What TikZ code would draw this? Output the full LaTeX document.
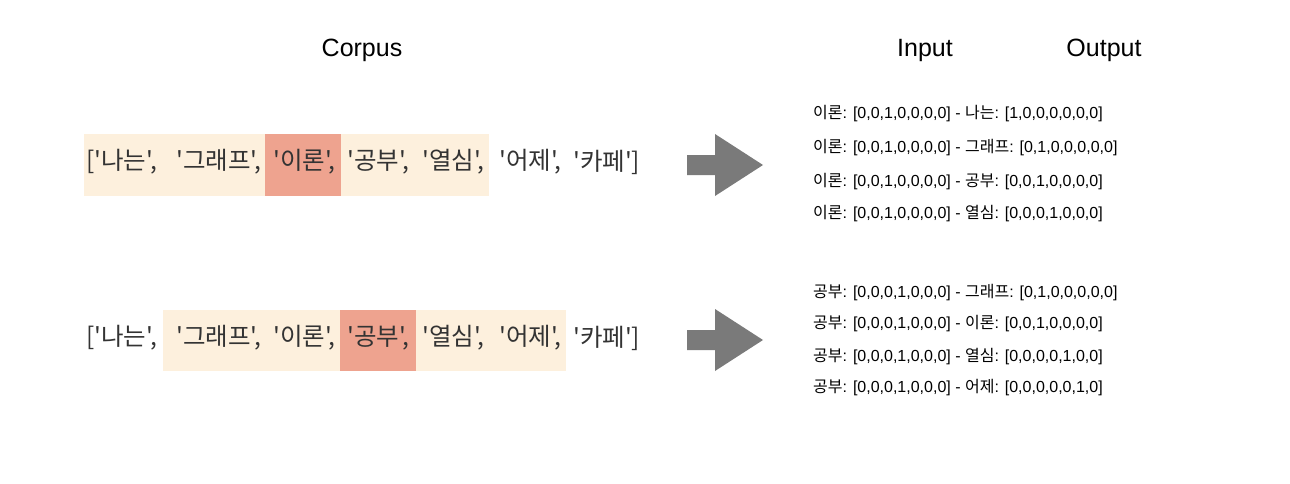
\documentclass[tikz,border=0pt]{standalone}
\usepackage{fontspec}
\setmainfont{Liberation Sans}
\newfontfamily\cjk{Noto Sans CJK KR}
\definecolor{litec}{HTML}{FDF0DD}
\definecolor{hotc}{HTML}{EEA38F}
\begin{document}
\begin{tikzpicture}[x=1pt,y=-1pt,
  lite/.style={fill=litec,draw=none},
  hot/.style={fill=hotc,draw=none},
  corp/.style={inner sep=0pt,anchor=west,font=\cjk\fontsize{24.5}{28}\selectfont,text=black!80},
  io/.style={inner sep=0pt,anchor=west,font=\fontsize{16}{19}\selectfont},
  ttl/.style={inner sep=0pt,font=\fontsize{25}{30}\selectfont},
  barrow/.style={fill=black!52,draw=none}]
\useasboundingbox (0,0) rectangle (1290,484);
\fill[lite] (84,134) rectangle (489,196);
\fill[hot] (265,134) rectangle (341,196);
\fill[lite] (163,310) rectangle (566,371);
\fill[hot] (340,310) rectangle (416,371);
\foreach \r/\y in {a/162,b/338}{
\node[corp] (\r1) at (86,\y) {['나는',};
\node[corp] (\r2) at (176,\y) {'그래프',};
\node[corp] (\r3) at (273,\y) {'이론',};
\node[corp] (\r4) at (347,\y) {'공부',};
\node[corp] (\r5) at (422,\y) {'열심',};
\node[corp] (\r6) at (499,\y) {'어제',};
\node[corp] (\r7) at (573,\y) {'카페']};
}
\node[ttl] (t1) at (362,50) {Corpus};
\node[ttl] (t2) at (925,50) {Input};
\node[ttl] (t3) at (1104,50) {Output};
\fill[barrow] (687,155) -- (715,155) -- (715,134) -- (763,165) -- (715,196) -- (715,175) -- (687,175) -- cycle;
\fill[barrow] (687,330) -- (715,330) -- (715,309) -- (763,340) -- (715,371) -- (715,350) -- (687,350) -- cycle;
\node[io] (r1) at (813,114) {{\cjk 이론}: [0,0,1,0,0,0,0] - {\cjk 나는}: [1,0,0,0,0,0,0]};
\node[io] (r2) at (813,148) {{\cjk 이론}: [0,0,1,0,0,0,0] - {\cjk 그래프}: [0,1,0,0,0,0,0]};
\node[io] (r3) at (813,182) {{\cjk 이론}: [0,0,1,0,0,0,0] - {\cjk 공부}: [0,0,1,0,0,0,0]};
\node[io] (r4) at (813,214) {{\cjk 이론}: [0,0,1,0,0,0,0] - {\cjk 열심}: [0,0,0,1,0,0,0]};
\node[io] (s1) at (813,293) {{\cjk 공부}: [0,0,0,1,0,0,0] - {\cjk 그래프}: [0,1,0,0,0,0,0]};
\node[io] (s2) at (813,324) {{\cjk 공부}: [0,0,0,1,0,0,0] - {\cjk 이론}: [0,0,1,0,0,0,0]};
\node[io] (s3) at (813,357) {{\cjk 공부}: [0,0,0,1,0,0,0] - {\cjk 열심}: [0,0,0,0,1,0,0]};
\node[io] (s4) at (813,388) {{\cjk 공부}: [0,0,0,1,0,0,0] - {\cjk 어제}: [0,0,0,0,0,1,0]};
\end{tikzpicture}
\end{document}
